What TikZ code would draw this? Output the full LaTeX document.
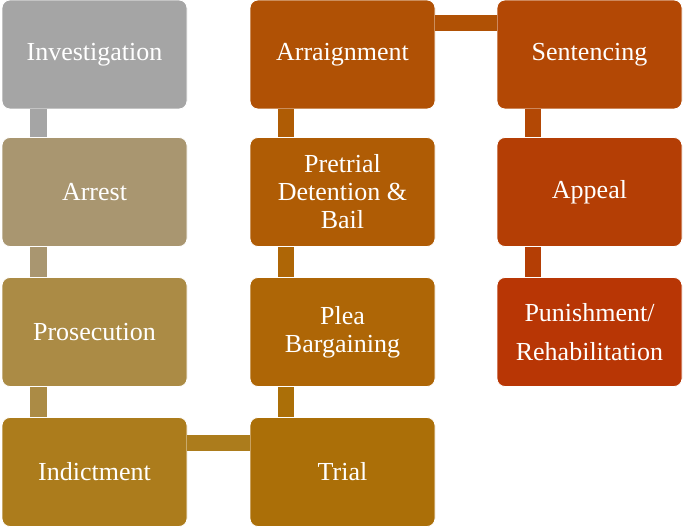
\documentclass[tikz,border=0pt]{standalone}
\usepackage{fontspec}
\setmainfont{Liberation Serif}
\definecolor{cInv}{HTML}{A5A5A5}
\definecolor{cArr}{HTML}{A99670}
\definecolor{cPro}{HTML}{AB8B45}
\definecolor{cInd}{HTML}{AC7C1C}
\definecolor{cTri}{HTML}{AB6F08}
\definecolor{cPle}{HTML}{AE6606}
\definecolor{cPre}{HTML}{AF5C05}
\definecolor{cArg}{HTML}{B05105}
\definecolor{cSen}{HTML}{B34805}
\definecolor{cApp}{HTML}{B43E05}
\definecolor{cPun}{HTML}{B83605}
\tikzset{
  stagebox/.style={draw=white, line width=0.8pt, rounded corners=8pt,
    minimum width=185pt, minimum height=109pt, inner sep=0pt,
    align=center, text=white, font=\fontsize{26}{28}\selectfont}
}
\begin{document}
\begin{tikzpicture}[x=1pt,y=-1pt]
\useasboundingbox (0,0) rectangle (685,529);
% boxes
\node[stagebox, fill=cInv] (inv) at (94.5,54.5) {Investigation};
\node[stagebox, fill=cArr] (arr) at (94.5,192) {Arrest};
\node[stagebox, fill=cPro] (pro) at (94.5,332) {Prosecution};
\node[stagebox, fill=cInd] (ind) at (94.5,472) {Indictment};
\node[stagebox, fill=cTri] (tri) at (342.5,472) {Trial};
\node[stagebox, fill=cPle] (ple) at (342.5,332) {Plea\\Bargaining};
\node[stagebox, fill=cPre] (pre) at (342.5,192) {Pretrial\\Detention \&\\Bail};
\node[stagebox, fill=cArg] (arg) at (342.5,54.5) {Arraignment};
\node[stagebox, fill=cSen] (sen) at (589.5,54.5) {Sentencing};
\node[stagebox, fill=cApp] (app) at (589.5,192) {Appeal};
\node[stagebox, fill=cPun] (pun) at (589.5,332) {Punishment/\\[11pt]Rehabilitation};
% connectors
\fill[cInv] ([xshift=28pt]inv.south west) rectangle ([xshift=45pt]arr.north west);
\fill[cArr] ([xshift=28pt]arr.south west) rectangle ([xshift=45pt]pro.north west);
\fill[cPro] ([xshift=28pt]pro.south west) rectangle ([xshift=45pt]ind.north west);
\fill[cInd] ([yshift=-18pt]ind.north east) rectangle ([yshift=-34pt]tri.north west);
\fill[cTri] ([xshift=28pt]tri.north west) rectangle ([xshift=44pt]ple.south west);
\fill[cPle] ([xshift=28pt]ple.north west) rectangle ([xshift=44pt]pre.south west);
\fill[cPre] ([xshift=28pt]pre.north west) rectangle ([xshift=44pt]arg.south west);
\fill[cArg] ([yshift=-15pt]arg.north east) rectangle ([yshift=-31pt]sen.north west);
\fill[cSen] ([xshift=28pt]sen.south west) rectangle ([xshift=44pt]app.north west);
\fill[cApp] ([xshift=28pt]app.south west) rectangle ([xshift=44pt]pun.north west);
\end{tikzpicture}
\end{document}
